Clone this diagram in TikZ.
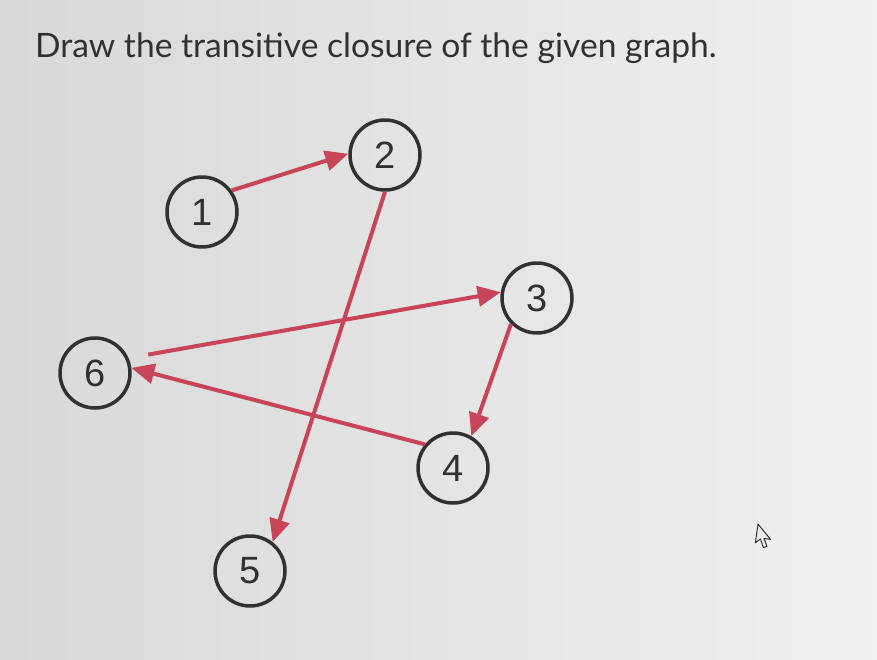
\documentclass[tikz,border=0pt]{standalone}
\usepackage{fontspec}
\setmainfont{Lato}
\newfontfamily\numfont{Liberation Sans}
\usetikzlibrary{arrows.meta}
\definecolor{edgered}{RGB}{200,68,88}
\definecolor{inkgray}{RGB}{48,50,50}
\begin{document}
\begin{tikzpicture}[x=1pt,y=-1pt,line join=round,
  vertex/.style={circle,draw=inkgray,line width=3.5pt,minimum size=70pt,inner sep=0pt,font=\numfont\fontsize{38}{40}\selectfont,text=inkgray},
  edge/.style={draw=edgered,line width=4pt,-{Triangle[length=23pt,width=20pt]}}]
\useasboundingbox (0,0) rectangle (877,660);
\shade[left color=black!15,right color=black!6] (0,0) rectangle (877,660);
%\draw[gray!40,step=50] (0,0) grid (877,660);
\node[anchor=base west,inner sep=0pt,text=inkgray,font=\fontsize{33.6}{38}\selectfont] (title) at (35,58) {Draw the transitive closure of the given graph.};
% vertices
\node[vertex] (n1) at (202,212) {1};
\node[vertex] (n2) at (385,155) {2};
\node[vertex] (n3) at (537,298) {3};
\node[vertex] (n4) at (453,468) {4};
\node[vertex] (n5) at (250,571) {5};
\node[vertex] (n6) at (95,373) {6};
% edges
\draw[edge] (n1.36) -- (n2.178);
\draw[edge] (n2.270) -- (n5.52);
\draw[edge,shorten <=20pt] (n6.24) -- (n3.171);
\draw[edge] (n4.140) -- (n6.8);
\draw[edge] (n3.225) -- (n4.60);
% mouse pointer
\draw[inkgray,fill=white!92!black,line width=1pt,rotate around={-8:(758,524)}] (758,524) -- ++(0,19) -- ++(4.5,-4.5) -- ++(4,8) -- ++(3.5,-1.5) -- ++(-4,-7.5) -- ++(6.5,0) -- cycle;
\end{tikzpicture}
\end{document}
